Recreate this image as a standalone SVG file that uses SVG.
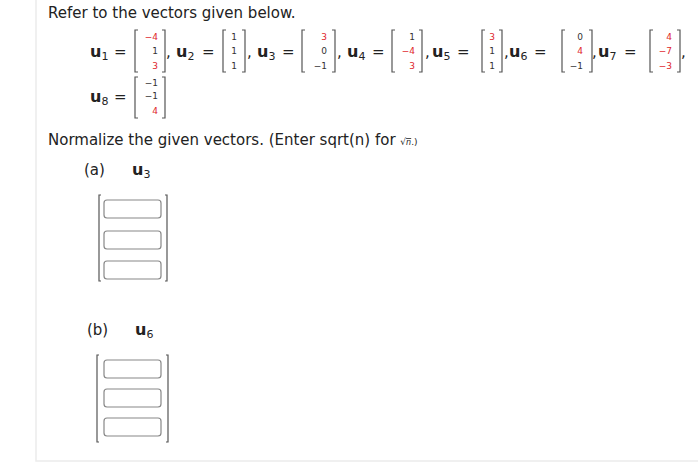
<svg xmlns="http://www.w3.org/2000/svg" width="698" height="468" viewBox="0 0 698 468">
<style>
text{font-family:"DejaVu Sans",Verdana,sans-serif;fill:#222}
.t{font-size:15px}
.b{font-size:16px;font-weight:bold}
.s{font-size:11px;font-weight:normal}
.e{font-size:9px;text-anchor:end;fill:#333}
.r{fill:#e0262b}
.br{fill:none;stroke:#555;stroke-width:1.2}
.bx{fill:#fff;stroke:#888;stroke-width:1.2}
</style>
<rect width="698" height="468" fill="#fff"/>
<path d="M36 0V461H698" fill="none" stroke="#ececec" stroke-width="1.5"/>
<text class="t" x="48" y="18">Refer to the vectors given below.</text>
<g id="row1">
<text class="b" x="90" y="57">u<tspan class="s" dy="3">1</tspan></text><text class="t" x="114" y="57">=</text>
<path class="br" d="M138 30h-3v42h3M162 30h3v42h-3"/>
<text class="e r" x="158" y="40">−4</text><text class="e" x="158" y="54">1</text><text class="e r" x="158" y="69">3</text>
<text class="t" x="166" y="57">,</text>
<text class="b" x="176" y="57">u<tspan class="s" dy="3">2</tspan></text><text class="t" x="202" y="57">=</text>
<path class="br" d="M226 30h-3v42h3M242 30h3v42h-3"/>
<text class="e" x="237" y="40">1</text><text class="e" x="237" y="54">1</text><text class="e" x="237" y="69">1</text>
<text class="t" x="247" y="57">,</text>
<text class="b" x="257" y="57">u<tspan class="s" dy="3">3</tspan></text><text class="t" x="282" y="57">=</text>
<path class="br" d="M305 30h-3v42h3M332 30h3v42h-3"/>
<text class="e r" x="327" y="40">3</text><text class="e" x="327" y="54">0</text><text class="e" x="327" y="69">−1</text>
<text class="t" x="337" y="57">,</text>
<text class="b" x="347" y="57">u<tspan class="s" dy="3">4</tspan></text><text class="t" x="372" y="57">=</text>
<path class="br" d="M395 30h-3v42h3M419 30h3v42h-3"/>
<text class="e" x="415" y="40">1</text><text class="e r" x="415" y="54">−4</text><text class="e r" x="415" y="69">3</text>
<text class="t" x="425" y="57">,</text>
<text class="b" x="432" y="57">u<tspan class="s" dy="3">5</tspan></text><text class="t" x="457" y="57">=</text>
<path class="br" d="M485 30h-3v42h3M499 30h3v42h-3"/>
<text class="e r" x="495" y="40">3</text><text class="e" x="495" y="54">1</text><text class="e" x="495" y="69">1</text>
<text class="t" x="504" y="57">,</text>
<text class="b" x="509" y="57">u<tspan class="s" dy="3">6</tspan></text><text class="t" x="534" y="57">=</text>
<path class="br" d="M565 30h-3v42h3M589 30h3v42h-3"/>
<text class="e" x="583" y="40">0</text><text class="e r" x="583" y="54">4</text><text class="e" x="583" y="69">−1</text>
<text class="t" x="592" y="57">,</text>
<text class="b" x="598" y="57">u<tspan class="s" dy="3">7</tspan></text><text class="t" x="624" y="57">=</text>
<path class="br" d="M653 30h-3v42h3M677 30h3v42h-3"/>
<text class="e r" x="672" y="40">4</text><text class="e r" x="672" y="54">−7</text><text class="e r" x="672" y="69">−3</text>
<text class="t" x="681" y="57">,</text>
</g>
<g id="row2">
<text class="b" x="90" y="102">u<tspan class="s" dy="3">8</tspan></text><text class="t" x="114" y="102">=</text>
<path class="br" d="M138 77h-3v41h3M162 77h3v41h-3"/>
<text class="e" x="158" y="86">−1</text><text class="e" x="158" y="99">−1</text><text class="e r" x="158" y="114">4</text>
</g>
<text class="t" x="48" y="145">Normalize the given vectors. (Enter sqrt(n) for <tspan font-size="9">√</tspan><tspan font-size="8" font-style="italic" text-decoration="overline">n</tspan><tspan font-size="9">.)</tspan></text>
<g id="a">
<text class="t" x="84" y="175">(a)</text>
<text class="b" x="132" y="175">u<tspan class="s" dy="3">3</tspan></text>
<path class="br" d="M101 195h-2v86h2M165 195h2v86h-2"/>
<rect class="bx" x="104" y="200" width="57" height="18" rx="3"/>
<rect class="bx" x="104" y="231" width="57" height="18" rx="3"/>
<rect class="bx" x="104" y="261" width="57" height="18" rx="3"/>
</g>
<g id="b">
<text class="t" x="87" y="335">(b)</text>
<text class="b" x="135" y="335">u<tspan class="s" dy="3">6</tspan></text>
<path class="br" d="M99 355h-2v87h2M166 355h2v87h-2"/>
<rect class="bx" x="104" y="360" width="57" height="18" rx="3"/>
<rect class="bx" x="104" y="389" width="57" height="18" rx="3"/>
<rect class="bx" x="104" y="418" width="57" height="18" rx="3"/>
</g>
</svg>
